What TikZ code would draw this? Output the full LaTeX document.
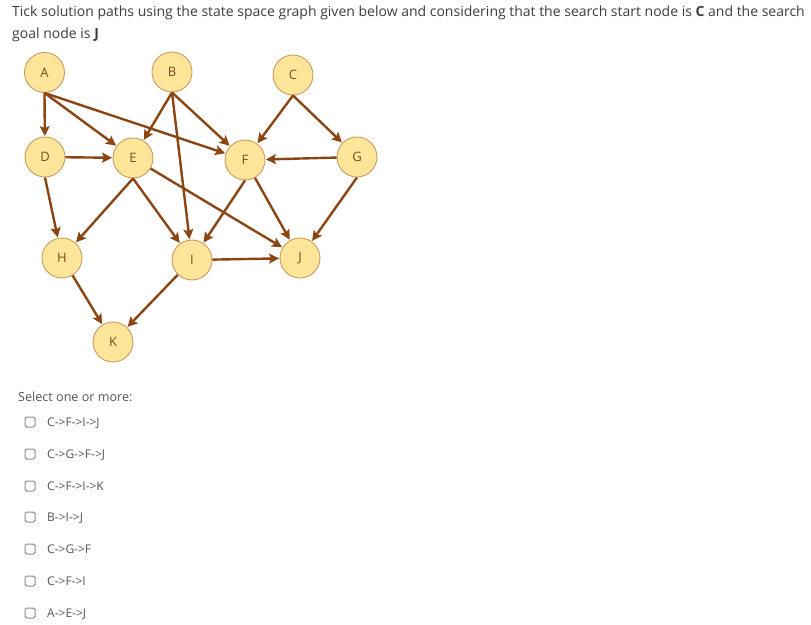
\documentclass[tikz,border=0pt]{standalone}
\usepackage{fontspec}
\setmainfont{Open Sans}
\usepackage{tikz}
\usetikzlibrary{arrows.meta,positioning}
\definecolor{StateFill}{HTML}{FFE59A}
\definecolor{StateLine}{HTML}{C99A5E}
\definecolor{StateArrow}{HTML}{8B4513}
\definecolor{StateText}{HTML}{7A4A1A}
\definecolor{QText}{HTML}{3C3C3C}
\definecolor{OptText}{HTML}{555555}
\definecolor{BoxGray}{HTML}{8C8C8C}

\tikzset{
  state/.style={circle,fill=StateFill,draw=StateLine,line width=0.9pt,minimum size=40pt,inner sep=0pt,
    font=\fontsize{13}{15}\selectfont,text=StateText},
  edge/.style={draw=StateArrow,line width=2.4pt,-{Stealth[length=10pt,width=10pt,inset=2pt]},shorten >=0.5pt},
  tickbox/.style={draw=BoxGray,line width=1pt,rounded corners=1.6pt,minimum size=10pt,inner sep=0pt},
  opt/.style={anchor=base west,inner sep=0pt,font=\fontsize{12}{14}\selectfont,text=OptText}
}

\begin{document}
\begin{tikzpicture}[x=1pt,y=-1pt]
  \useasboundingbox (0,0) rectangle (811,624);

  % question text
  \node[anchor=base west,inner sep=0pt,font=\fontsize{14}{16}\selectfont,text=QText] (q1) at (12,16)
    {Tick solution paths using the state space graph given below and considering that the search start node is \textbf{C} and the search};
  \node[anchor=base west,inner sep=0pt,font=\fontsize{14}{16}\selectfont,text=QText] (q2) at (12,38)
    {goal node is \textbf{J}};

  % states
  \node[state] (A) at (44.5,72.5) {A};
  \node[state] (B) at (172,72) {B};
  \node[state] (C) at (293,75) {C};
  \node[state] (D) at (45,157) {D};
  \node[state] (E) at (133,158) {E};
  \node[state] (F) at (245,160) {F};
  \node[state] (G) at (357,157) {G};
  \node[state] (H) at (62,258) {H};
  \node[state] (I) at (192,260) {I};
  \node[state] (J) at (300,258) {J};
  \node[state] (K) at (113,342) {K};

  % transitions
  \draw[edge] (A.south) -- (D);
  \draw[edge] (A.south) -- (E);
  \draw[edge] (A.south) -- (F);
  \draw[edge] (B.south) -- (E);
  \draw[edge] (B.south) -- (I);
  \draw[edge] (B.south) -- (F);
  \draw[edge] (C.south) -- (F);
  \draw[edge] (C.south) -- (G);
  \draw[edge] (D) -- (E);
  \draw[edge] (D.south) -- (H);
  \draw[edge] (E.south) -- (H);
  \draw[edge] (E.south) -- (I);
  \draw[edge] (E) -- (J);
  \draw[edge] (F.south) -- (I);
  \draw[edge] (F) -- (J);
  \draw[edge] (G) -- (F);
  \draw[edge] (G.south) -- (J);
  \draw[edge] (I) -- (J);
  \draw[edge] (H) -- (K);
  \draw[edge] (I) -- (K);

  % answers
  \node[anchor=base west,inner sep=0pt,font=\fontsize{12.6}{14}\selectfont,text=OptText] (sel) at (18,401)
    {Select one or more:};
  \foreach \y/\txt [count=\n] in {422/C->F->I->J,454/C->G->F->J,486/C->F->I->K,517/B->I->J,
      549/C->G->F,581/C->F->I,613/A->E->J}{
    \node[tickbox] (box\n) at (30,\y) {};
    \node[opt] (opt\n) at (47,\y+4) {\txt};
  }
\end{tikzpicture}
\end{document}
